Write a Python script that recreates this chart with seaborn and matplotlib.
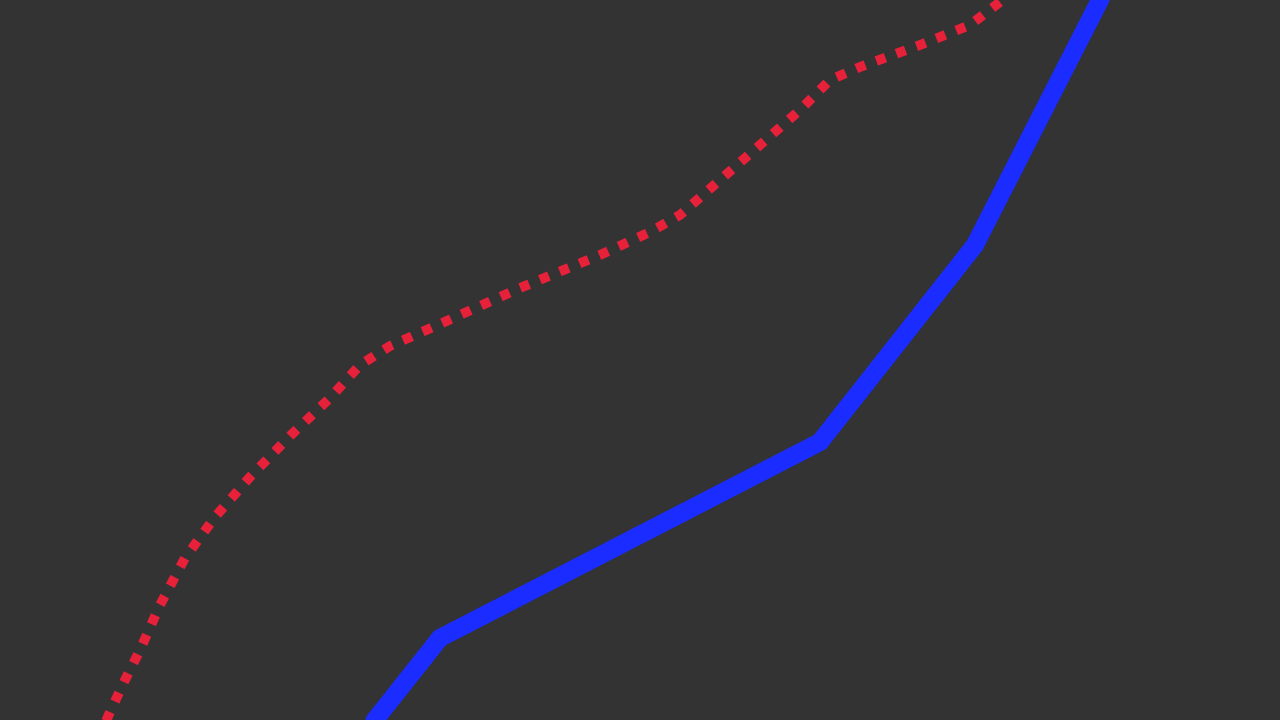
import matplotlib
matplotlib.use("Agg")
import matplotlib.pyplot as plt
import seaborn as sns
import pandas as pd

# solid blue series
blue_x = [3.60, 3.75, 4.40, 8.20, 9.75, 11.00, 11.10]
blue_y = [-0.20, 0.00, 0.82, 2.78, 4.75, 7.20, 7.40]

# dotted red series
red_x = [1.00, 1.10, 1.25, 1.40, 1.60, 1.85, 2.15, 2.50, 2.90, 3.30, 3.60, 3.90,
         4.40, 5.20, 6.00, 6.50, 6.80, 7.20, 7.60, 8.00, 8.30, 8.60, 9.20, 9.70,
         10.00, 10.10]
red_y = [-0.15, 0.08, 0.40, 0.70, 1.15, 1.62, 2.03, 2.43, 2.84, 3.22, 3.55, 3.74,
         3.96, 4.32, 4.65, 4.88, 5.05, 5.40, 5.75, 6.10, 6.40, 6.53, 6.75, 6.95,
         7.18, 7.30]

BG = "#333333"

sns.set_theme(style="dark", rc={"axes.facecolor": BG, "figure.facecolor": BG})

fig = plt.figure(figsize=(12.8, 7.2), dpi=100)
ax = fig.add_axes([0, 0, 1, 1])

blue = pd.DataFrame({"x": blue_x, "y": blue_y})
red = pd.DataFrame({"x": red_x, "y": red_y})

sns.lineplot(data=red, x="x", y="y", ax=ax, sort=False, color="#e8213a",
             linewidth=7, linestyle=(0, (1, 1.2)), dash_capstyle="butt")
sns.lineplot(data=blue, x="x", y="y", ax=ax, sort=False, color="#1a2cff",
             linewidth=13, solid_joinstyle="miter")

ax.set_xlim(0, 12.8)
ax.set_ylim(0, 7.2)
ax.set_axis_off()

fig.savefig("out.png", dpi=100, facecolor=BG)
